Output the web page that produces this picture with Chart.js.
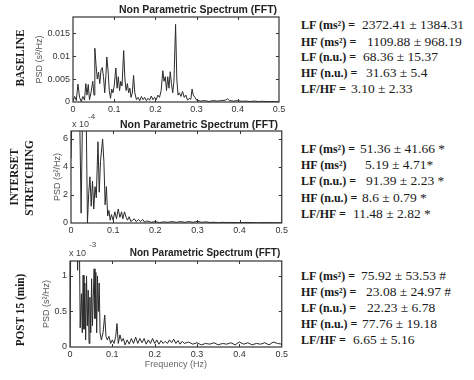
<!DOCTYPE html>
<html><head><meta charset="utf-8">
<script src="https://cdn.jsdelivr.net/npm/chart.js@4"></script>
<style>
html,body{margin:0;padding:0;background:#fff;}
#wrap{position:relative;width:474px;height:380px;overflow:hidden;font-family:"Liberation Serif","Times New Roman",serif;color:#1a1a1a;}
canvas{position:absolute;left:0;}
.t{position:absolute;white-space:pre;font-size:13.5px;line-height:16px;}
.b{font-weight:bold;font-size:12px;}
.rot{position:absolute;font-weight:bold;font-size:13px;line-height:13px;white-space:pre;transform:translate(-50%,-50%) rotate(-90deg) scaleX(0.87);}
.ttl{position:absolute;font-family:"Liberation Sans",Arial,sans-serif;font-weight:bold;font-size:10.5px;line-height:11px;white-space:pre;color:#222;transform:translateX(-50%);}
.exp{position:absolute;font-family:"Liberation Sans",Arial,sans-serif;font-size:9px;line-height:10px;color:#444;white-space:pre;}
</style></head>
<body>
<div id="wrap">
<canvas id="c1" width="290" height="115" style="top:0px"></canvas>
<canvas id="c2" width="290" height="125" style="top:115px"></canvas>
<canvas id="c3" width="290" height="140" style="top:240px"></canvas>
</div>
<script>
// ---------- data ----------
const panelTitle = "Non Parametric Spectrum (FFT)";
const rowLabels = ["BASELINE", "INTERSET", "STRETCHING", "POST 15 (min)"];

const freqTicks = [0, 0.1, 0.2, 0.3, 0.4, 0.5];
const freqTickLabels = ["0", "0.1", "0.2", "0.3", "0.4", "0.5"];

// Baseline PSD (s^2/Hz)
const freqBase = [0,0.004,0.008,0.012,0.016,0.02,0.024,0.028,0.031,0.034,0.037,0.04,0.044,0.048,0.051,0.053,0.056,0.059,0.062,0.065,0.068,0.071,0.074,0.077,0.08,0.082,0.085,0.088,0.091,0.094,0.097,0.1,0.104,0.107,0.11,0.113,0.116,0.119,0.123,0.126,0.129,0.132,0.135,0.138,0.141,0.144,0.147,0.15,0.154,0.158,0.162,0.166,0.17,0.174,0.178,0.182,0.186,0.19,0.194,0.198,0.202,0.206,0.21,0.214,0.218,0.221,0.224,0.227,0.23,0.233,0.236,0.239,0.242,0.245,0.249,0.252,0.255,0.258,0.262,0.266,0.27,0.274,0.278,0.282,0.286,0.289,0.292,0.296,0.3,0.31,0.32,0.33,0.34,0.35,0.36,0.37,0.375,0.38,0.39,0.4,0.41,0.42,0.43,0.44,0.45,0.46,0.47,0.48,0.49,0.5];
const psdBase = [0.0002,0.0012,0.0003,0.0039,0.001,0.0001,0.0012,0.0004,0.004,0.0015,0.0038,0.0005,0.0022,0.0045,0.0015,0.0117,0.008,0.005,0.0065,0.004,0.007,0.0075,0.0055,0.002,0.006,0.0098,0.007,0.0025,0.0008,0.0028,0.002,0.0035,0.0074,0.003,0.0055,0.0025,0.0045,0.0035,0.0112,0.005,0.0025,0.004,0.002,0.003,0.001,0.002,0.0058,0.002,0.0005,0.001,0.0003,0.0012,0.0005,0.001,0.0003,0.0008,0.0004,0.0013,0.0005,0.001,0.0005,0.0015,0.001,0.0025,0.0068,0.0045,0.0055,0.0025,0.0055,0.003,0.0066,0.004,0.002,0.0045,0.0169,0.005,0.0015,0.002,0.0012,0.0023,0.001,0.0015,0.0004,0.0008,0.0006,0.0028,0.0015,0.001,0.0004,0.0002,0.0003,0.0001,0.0003,0.0002,0.0003,0.0004,0.0007,0.0003,0.0002,0.0003,0.00015,0.0002,0.0001,0.0002,0.0001,0.00015,0.0001,0.0001,0.0001,0.00005];
const baseYTicks = [0, 0.005, 0.01, 0.015];
const baseYLabels = ["0", "0.005", "0.01", "0.015"];

// Interset stretching PSD (x 10^-4 s^2/Hz)
const freqStretch = [0,0.004,0.008,0.012,0.016,0.02,0.024,0.028,0.032,0.036,0.039,0.042,0.045,0.048,0.051,0.054,0.057,0.06,0.064,0.067,0.07,0.075,0.078,0.081,0.084,0.087,0.09,0.093,0.096,0.1,0.104,0.108,0.112,0.116,0.12,0.123,0.127,0.131,0.134,0.138,0.142,0.146,0.15,0.155,0.16,0.165,0.17,0.175,0.18,0.19,0.2,0.21,0.22,0.23,0.24,0.25,0.26,0.27,0.28,0.29,0.3,0.31,0.32,0.33,0.34,0.35,0.36,0.37,0.38,0.4,0.42,0.44,0.46,0.48,0.5];
const psdStretch = [4.6,10,12,11,10,9,0.7,9,10,8,0,2.1,3.3,1.2,3.0,1.0,2.6,1.8,5.8,2.2,4.4,6.0,4.4,1.3,2.6,0.5,0.9,0.2,0.6,0.2,0.8,0.3,1.0,0.4,0.8,0.3,0.8,0.4,0.2,0.45,0.1,0.2,0.3,0.1,0.25,0.1,0.25,0.05,0.15,0.05,0.1,0.03,0.08,0.05,0.1,0.05,0.1,0.05,0.1,0.05,0.12,0.05,0.08,0.04,0.05,0.03,0.05,0.03,0.04,0.03,0.04,0.02,0.03,0.02,0.02];
const stretchYTicks = [0, 2, 4, 6];
const stretchYLabels = ["0", "2", "4", "6"];

// Post 15 min PSD (x 10^-3 s^2/Hz)
const freqPost = [0,0.003,0.008,0.013,0.018,0.021,0.024,0.027,0.029,0.031,0.033,0.035,0.037,0.039,0.041,0.043,0.045,0.047,0.049,0.051,0.053,0.055,0.057,0.059,0.061,0.063,0.065,0.067,0.069,0.071,0.074,0.078,0.082,0.085,0.088,0.092,0.096,0.1,0.104,0.108,0.111,0.114,0.118,0.122,0.126,0.13,0.135,0.14,0.145,0.15,0.155,0.16,0.165,0.17,0.175,0.18,0.185,0.19,0.195,0.2,0.205,0.21,0.215,0.22,0.225,0.23,0.235,0.24,0.245,0.25,0.255,0.26,0.265,0.27,0.28,0.29,0.3,0.31,0.32,0.33,0.34,0.35,0.36,0.37,0.38,0.39,0.4,0.41,0.42,0.43,0.44,0.45,0.46,0.47,0.48,0.49,0.5];
const psdPost = [0,2.5,2.8,2.5,1.08,2.3,0.27,0.75,0.2,1.01,0.25,0.9,0.1,1.0,0.3,0.8,0.05,0.7,0.2,0.96,0.3,0.7,1.1,0.4,1.05,0.2,1.0,0.5,0.9,0.2,0.1,0.2,0.45,0.15,0.1,0.15,0.05,0.1,0.05,0.15,0.33,0.05,0.17,0.08,0.12,0.03,0.1,0.04,0.12,0.05,0.14,0.05,0.12,0.06,0.12,0.04,0.1,0.05,0.12,0.05,0.1,0.04,0.09,0.05,0.08,0.05,0.1,0.06,0.11,0.05,0.09,0.04,0.08,0.05,0.07,0.04,0.06,0.03,0.05,0.04,0.06,0.03,0.05,0.04,0.06,0.03,0.07,0.04,0.06,0.03,0.05,0.04,0.06,0.03,0.07,0.05,0.04];
const postYTicks = [0, 0.5, 1];
const postYLabels = ["0", "0.5", "1"];

// Statistics text
const statLabels = ["LF (ms²) =", "HF (ms²) =", "LF (n.u.) =", "HF (n.u.) =", "LF/HF ="];
const statLabelsStretch = ["LF (ms²) =", "HF (ms²)", "LF (n.u.) =", "HF (n.u.) =", "LF/HF ="];
const statsBase = ["2372.41 ± 1384.31", "1109.88 ± 968.19", "68.36 ± 15.37", "31.63 ± 5.4", "3.10 ± 2.33"];
const statsStretch = ["51.36 ± 41.66 *", "5.19 ± 4.71*", "91.39 ± 2.23 *", "8.6 ± 0.79 *", "11.48 ± 2.82 *"];
const statsPost = ["75.92 ± 53.53 #", "23.08 ± 24.97 #", "22.23 ± 6.78", "77.76 ± 19.18", "6.65 ± 5.16"];

// ---------- layout helpers ----------
const wrap = document.getElementById('wrap');
function addDiv(cls, text, left, top, extra) {
  const d = document.createElement('div');
  d.className = cls; d.textContent = text;
  d.style.left = left + 'px'; d.style.top = top + 'px';
  if (extra) Object.assign(d.style, extra);
  wrap.appendChild(d); return d;
}
function addStats(labels, values, ys, xs) {
  labels.forEach((l, i) => {
    addDiv('t b', l, 301, ys[i] - 8);
    addDiv('t', values[i], xs[i], ys[i] - 8);
  });
}
addStats(statLabels, statsBase, [25, 41.5, 57.3, 73, 89.3], [362, 367, 363, 366, 351]);
addStats(statLabelsStretch, statsStretch, [148.5, 165, 181, 198, 214], [360, 365, 366, 362, 353]);
addStats(statLabels, statsPost, [276, 292.3, 308.3, 324, 340], [361, 366, 367, 362, 353]);

addDiv('rot', rowLabels[0], 19, 57.5);
addDiv('rot', rowLabels[1], 13, 176.5);
addDiv('rot', rowLabels[2], 28, 177.5);
addDiv('rot', rowLabels[3], 18.5, 309.5);

addDiv('ttl', panelTitle, 198, 4);
addDiv('ttl', panelTitle, 199, 119);
addDiv('ttl', panelTitle, 205, 247, {fontSize: '10px'});
addDiv('exp', 'x 10', 72, 119);
addDiv('exp', '-4', 88, 112, {fontSize: '8px'});
addDiv('exp', 'x 10', 69, 248);
addDiv('exp', '-3', 89, 240, {fontSize: '8px'});

// ---------- charts ----------
Chart.defaults.font.family = '"Liberation Sans", Arial, sans-serif';
const boxPlugin = {
  id: 'box',
  afterDatasetsDraw(chart) {
    const {ctx, chartArea: a, scales: {x, y}} = chart;
    ctx.save();
    ctx.strokeStyle = '#333'; ctx.lineWidth = 1.2;
    ctx.strokeRect(a.left, a.top, a.right - a.left, a.bottom - a.top);
    ctx.lineWidth = 1; ctx.beginPath();
    x.ticks.forEach(t => {
      const p = Math.round(x.getPixelForValue(t.value)) + 0.5;
      if (p > a.left + 2 && p < a.right - 2) {
        ctx.moveTo(p, a.bottom); ctx.lineTo(p, a.bottom - 3);
        ctx.moveTo(p, a.top); ctx.lineTo(p, a.top + 3);
      }
    });
    y.ticks.forEach(t => {
      const p = Math.round(y.getPixelForValue(t.value)) + 0.5;
      if (p > a.top + 2 && p < a.bottom - 2) {
        ctx.moveTo(a.left, p); ctx.lineTo(a.left + 3, p);
        ctx.moveTo(a.right, p); ctx.lineTo(a.right - 3, p);
      }
    });
    ctx.stroke(); ctx.restore();
  }
};

function makePanel(id, freqs, vals, yMax, yTicks, yLabels, cfg) {
  const pts = freqs.map((f, i) => ({x: f, y: vals[i]}));
  new Chart(document.getElementById(id), {
    type: 'line',
    data: {datasets: [{data: pts, borderColor: '#2a2a2a', borderWidth: 1, pointRadius: 0, tension: 0, fill: false}]},
    options: {
      responsive: false, animation: false, devicePixelRatio: 1,
      layout: {padding: cfg.pad},
      plugins: {legend: {display: false}, tooltip: {enabled: false}, title: {display: false}},
      scales: {
        x: {
          type: 'linear', min: 0, max: 0.5,
          afterBuildTicks: s => { s.ticks = freqTicks.map(v => ({value: v})); },
          afterFit: s => { s.height = cfg.xh; },
          grid: {display: false, drawTicks: false},
          border: {display: false},
          ticks: {padding: 2, color: '#333', font: {size: 9}, maxRotation: 0, autoSkip: false,
                  callback: (v, i) => freqTickLabels[i]},
          title: cfg.xTitle ? {display: true, text: cfg.xTitle, color: '#666', font: {size: 9}, padding: 0} : {display: false}
        },
        y: {
          type: 'linear', min: 0, max: yMax,
          afterBuildTicks: s => { s.ticks = yTicks.map(v => ({value: v})); },
          afterFit: s => { s.width = cfg.yw; },
          grid: {display: false, drawTicks: false},
          border: {display: false},
          ticks: {padding: 3, color: '#333', font: {size: 9}, autoSkip: false,
                  callback: (v, i) => yLabels[i]},
          title: {display: true, text: 'PSD (s²/Hz)', color: '#555', font: {size: 9}, padding: 0}
        }
      }
    },
    plugins: [boxPlugin]
  });
}

makePanel('c1', freqBase, psdBase, 0.0185, baseYTicks, baseYLabels,
  {pad: {left: 34, top: 17, right: 11, bottom: 0}, yw: 39, xh: 13});
makePanel('c2', freqStretch, psdStretch, 6.57, stretchYTicks, stretchYLabels,
  {pad: {left: 52, top: 16, right: 7, bottom: 0}, yw: 19, xh: 17});
makePanel('c3', freqPost, psdPost, 1.21, postYTicks, postYLabels,
  {pad: {left: 41, top: 21, right: 7, bottom: 10}, yw: 29, xh: 23, xTitle: 'Frequency (Hz)'});
</script>
</body></html>
